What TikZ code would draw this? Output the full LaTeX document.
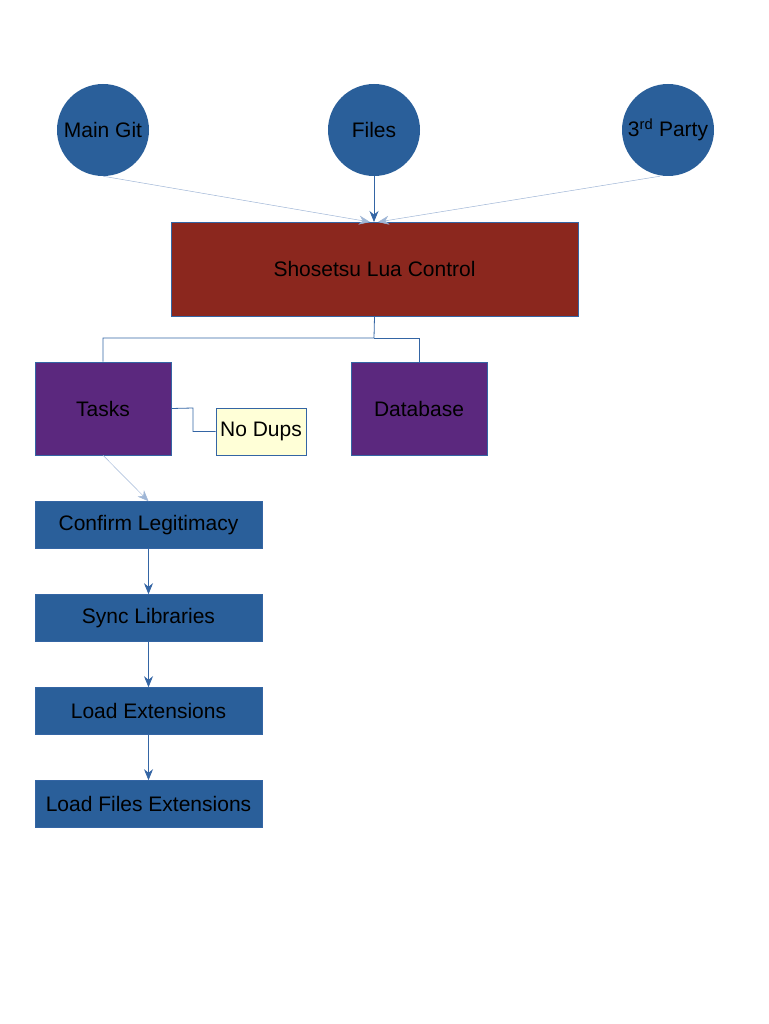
\documentclass[tikz,border=0pt]{standalone}
\usepackage{fontspec}
\setmainfont{Liberation Sans}
\usetikzlibrary{arrows.meta}
\definecolor{cblue}{HTML}{2A5F9A}
\definecolor{cred}{HTML}{8B271E}
\definecolor{cpurp}{HTML}{5B287E}
\definecolor{cyel}{HTML}{FFFFD7}
\definecolor{cline}{HTML}{3465A4}
\definecolor{clight}{HTML}{9FB6D6}
\begin{document}
\begin{tikzpicture}[x=1pt,y=-1pt,
  every node/.style={font=\fontsize{21}{25}\selectfont,text=black,inner sep=0pt},
  circ/.style={circle,fill=cblue,minimum size=92pt},
  box/.style={rectangle,draw=cline,line width=0.6pt},
  stepbox/.style={box,fill=cblue,minimum width=227pt,minimum height=47pt},
  arr/.style={-{Stealth[length=11pt,width=9pt]},cline,line width=0.8pt},
  conn/.style={cline,line width=0.8pt}]
\useasboundingbox (0,0) rectangle (768,1024);
\node[circ] (git) at (103,130) {Main Git};
\node[circ] (files) at (374,130) {Files};
\node[circ] (third) at (668,130) {3\textsuperscript{rd} Party};
\node[box,fill=cred,minimum width=407pt,minimum height=94pt] (sh) at (374.5,269) {Shosetsu Lua Control};
\node[box,fill=cpurp,minimum width=136pt,minimum height=93pt] (tasks) at (103,408.5) {Tasks};
\node[box,fill=cpurp,minimum width=136pt,minimum height=93pt] (db) at (419,408.5) {Database};
\node[box,fill=cyel,minimum width=90pt,minimum height=47pt] (nd) at (261,431.5) {No Dups};
\node[stepbox] (s1) at (148.5,525) {Confirm Legitimacy};
\node[stepbox] (s2) at (148.5,618) {Sync Libraries};
\node[stepbox] (s3) at (148.5,711) {Load Extensions};
\node[stepbox] (s4) at (148.5,804) {Load Files Extensions};
\coordinate (top) at (374,222);
\draw[arr,draw=clight,line width=0.5pt] (git.south) -- ([xshift=-4pt]top);
\draw[arr,draw=clight,line width=0.5pt] ([xshift=-8pt]third.south) -- ([xshift=4pt]top);
\draw[arr] (files.south) -- (top);
\draw[conn] (sh.south) -- (374,338) -| (tasks.north);
\draw[conn] (374,338) -| (db.north);
\draw[conn] (tasks.east) -- (193,408) |- (nd.west);
\draw[arr,draw=clight,line width=0.5pt] (tasks.south) -- (s1.north);
\draw[arr] (s1) -- (s2);
\draw[arr] (s2) -- (s3);
\draw[arr] (s3) -- (s4);
\end{tikzpicture}
\end{document}
